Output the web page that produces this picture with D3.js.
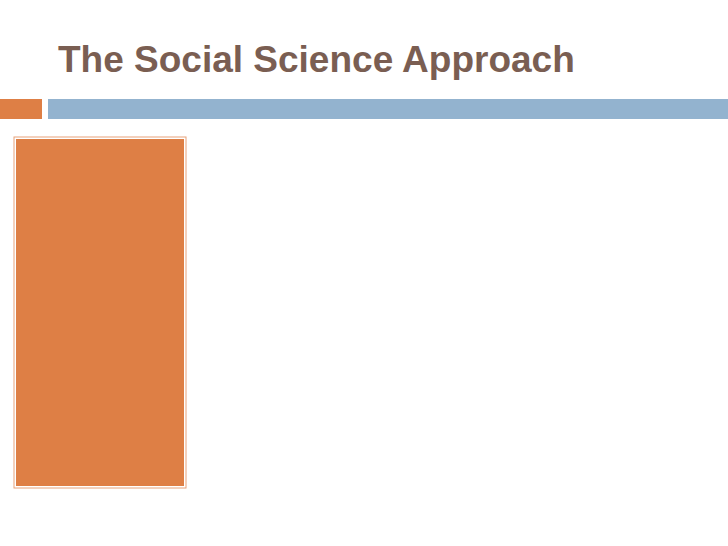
<!DOCTYPE html>
<html><head><meta charset="utf-8">
<script src="https://cdn.jsdelivr.net/npm/d3@7"></script>
<style>body{margin:0;background:#fff}</style></head>
<body><svg id="c" width="728" height="546"></svg>
<script>
const title = "The Social Science Approach";
const categories = ["Block"];
const values = [1];

const svg = d3.select("#c");
svg.append("rect").attr("x",0).attr("y",99).attr("width",42).attr("height",20).attr("fill","#DE7F45");
svg.append("rect").attr("x",48).attr("y",99).attr("width",680).attr("height",20).attr("fill","#93B3CF");
svg.append("text").attr("x",58).attr("y",72).text(title)
  .attr("font-family","Liberation Sans, Arial, sans-serif").attr("font-weight","bold")
  .attr("font-size",37).attr("fill","#7A5E52");

const x = d3.scaleBand().domain(categories).range([14,186]).padding(0);
const y = d3.scaleLinear().domain([0,1]).range([488,137]);
const g = svg.append("g");
g.selectAll("rect.o").data(values).join("rect").attr("class","o")
  .attr("x",(d,i)=>x(categories[i])).attr("y",d=>y(d))
  .attr("width",x.bandwidth()).attr("height",d=>y(0)-y(d))
  .attr("fill","#fff").attr("stroke","#E8A27A").attr("stroke-width",1);
g.selectAll("rect.i").data(values).join("rect").attr("class","i")
  .attr("x",(d,i)=>x(categories[i])+2).attr("y",d=>y(d)+2)
  .attr("width",x.bandwidth()-4).attr("height",d=>y(0)-y(d)-4)
  .attr("fill","#DE7F45");
</script></body></html>
